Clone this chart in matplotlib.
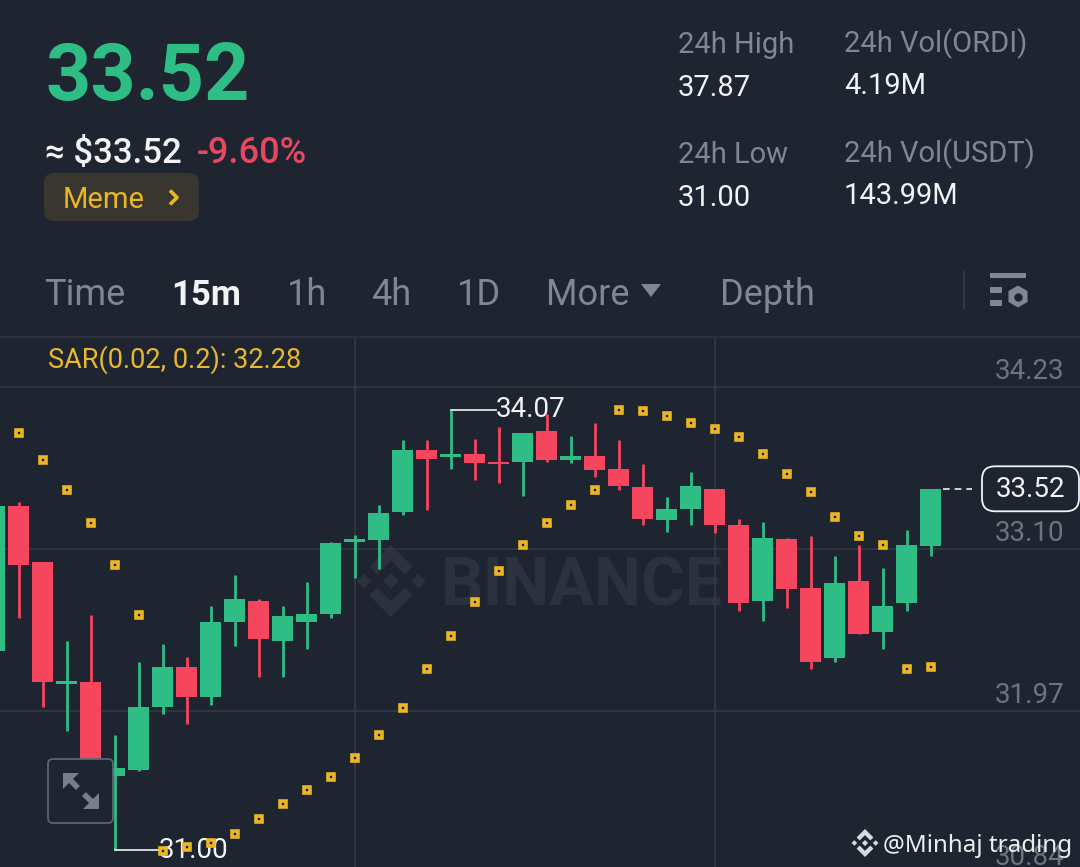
#!/usr/bin/env python3
"""ORDI/USDT 15m candlestick screen with parabolic SAR dots."""

import numpy as np
import matplotlib
matplotlib.use("Agg")
import matplotlib.pyplot as plt
from matplotlib.patches import FancyBboxPatch, Polygon

plt.rcParams['font.family'] = ['Roboto', 'DejaVu Sans']

BG = '#1e2430'
GREEN = '#2ebd85'
RED = '#f6465d'
GOLD = '#e9b824'
GREY = '#7f8794'
GRID = '#343a45'
WHITE = '#f2f3f5'

opens = [32.39, 33.40, 33.01, 32.16, 32.17, 31.52, 31.56, 32.00, 32.28, 32.07,
         32.59, 32.74, 32.46, 32.59, 32.65, 33.15, 33.16, 33.36, 33.79, 33.74,
         33.76, 33.71, 33.71, 33.92, 33.72, 33.75, 33.66, 33.53, 33.30, 33.38,
         33.52, 33.27, 32.74, 33.17, 32.83, 32.34, 32.88, 32.52, 32.72, 33.12]
closes = [33.40, 32.99, 32.17, 32.18, 31.56, 31.57, 32.00, 32.28, 32.07, 32.59,
          32.75, 32.47, 32.63, 32.65, 33.14, 33.17, 33.35, 33.79, 33.73, 33.76,
          33.70, 33.69, 33.91, 33.72, 33.75, 33.65, 33.54, 33.31, 33.38, 33.54,
          33.27, 32.72, 33.18, 32.82, 32.31, 32.86, 32.51, 32.70, 33.13, 33.52]
highs = [33.40, 33.43, 33.01, 32.46, 32.64, 31.80, 32.31, 32.44, 32.35, 32.70,
         32.92, 32.75, 32.70, 32.87, 33.15, 33.20, 33.41, 33.86, 33.86, 34.07,
         33.87, 33.95, 33.91, 34.04, 33.89, 33.98, 33.86, 33.69, 33.46, 33.64,
         33.52, 33.31, 33.29, 33.18, 33.19, 33.05, 33.13, 32.97, 33.23, 33.52]
lows = [32.39, 32.62, 32.00, 31.83, 31.56, 31.00, 31.55, 31.95, 31.88, 32.01,
        32.42, 32.21, 32.21, 32.40, 32.62, 32.90, 32.96, 33.34, 33.37, 33.66,
        33.58, 33.56, 33.47, 33.71, 33.70, 33.60, 33.51, 33.27, 33.22, 33.27,
        33.21, 32.67, 32.60, 32.69, 32.26, 32.31, 32.51, 32.40, 32.67, 33.05]
sar = [np.nan, 33.91, 33.72, 33.51, 33.28, 32.99, 32.64, 30.99, 31.02, 31.05,
       31.11, 31.22, 31.32, 31.42, 31.51, 31.64, 31.80, 31.99, 32.26, 32.49,
       32.73, 32.95, 33.13, 33.28, 33.41, 33.51, 34.07, 34.06, 34.03, 33.98,
       33.94, 33.88, 33.76, 33.62, 33.50, 33.32, 33.19, 33.13, 32.26, 32.28]

price_ticks = [34.23, 33.10, 31.97, 30.84]
time_ticks = [15, 30]
tab_labels = ['Time', '15m', '1h', '4h', '1D', 'More', 'Depth']
tab_x = [44, 171, 287, 371, 457, 546, 720]

fig = plt.figure(figsize=(10.8, 8.67), dpi=100, facecolor=BG)


def pixel_axes(z):
    a = fig.add_axes([0, 0, 1, 1], zorder=z)
    a.set_xlim(0, 1080)
    a.set_ylim(867, 0)
    a.axis('off')
    return a


def binance_logo(a, cx, cy, r, color):
    # chevrons top/bottom, three small diamonds across the middle
    chevron = np.array([[0, -1], [.6, -.4], [.38, -.18], [0, -.56], [-.38, -.18], [-.6, -.4]])
    diamond = np.array([[0, -1], [1, 0], [0, 1], [-1, 0]])
    shapes = [chevron, chevron * [1, -1], diamond * .22,
              diamond * .2 + [.76, 0], diamond * .2 + [-.76, 0]]
    for s in shapes:
        a.add_patch(Polygon(s * r + [cx, cy], closed=True, fc=color, ec='none'))


bg = pixel_axes(0)
ax = fig.add_axes([0, 0, 1, (867 - 337) / 867], zorder=1)
top = pixel_axes(2)

# watermark under the candles
binance_logo(bg, 391, 581, 36, '#2c323d')
bg.text(441, 605, 'BINANCE', color='#2c323d', fontsize=48, fontweight='bold', va='baseline')

# header
bg.text(46, 100, '33.52', color=GREEN, fontsize=57, fontweight='bold', va='baseline')
bg.text(45, 163, '≈ $33.52', color=WHITE, fontsize=25, fontweight='medium', va='baseline')
bg.text(197, 163, '-9.60%', color='#e5485f', fontsize=26, fontweight='medium', va='baseline')
bg.add_patch(FancyBboxPatch((51, 180), 141, 34, boxstyle='round,pad=7,rounding_size=10',
                            fc='#38362f', ec='none'))
bg.text(63, 208, 'Meme', color=GOLD, fontsize=21, va='baseline')
bg.plot([170, 177, 170], [190.5, 197.5, 204.5], color=GOLD, lw=2.6, solid_capstyle='butt')

stats = [(678, 53, '24h High', GREY), (678, 96, '37.87', WHITE),
         (844, 52, '24h Vol(ORDI)', GREY), (844, 94, '4.19M', WHITE),
         (678, 163, '24h Low', GREY), (678, 206, '31.00', WHITE),
         (844, 162, '24h Vol(USDT)', GREY), (844, 204, '143.99M', WHITE)]
for sx, sy, label, col in stats:
    bg.text(sx, sy, label, color=col, fontsize=21, va='baseline')

# timeframe tabs
for label, tx in zip(tab_labels, tab_x):
    on = label == '15m'
    bg.text(tx, 305, label, color=WHITE if on else GREY, fontsize=26 if not on else 25,
            fontweight='bold' if on else 'normal', va='baseline')
bg.add_patch(Polygon([[641, 284], [661, 284], [651, 297]], closed=True, fc=GREY, ec='none'))
bg.plot([964, 964], [272, 308], color='#343a45', lw=1.4)
for ix, iy, iw, ih in [(977, 273, 36, 5), (977, 287, 12, 6), (977, 300, 12, 6)]:
    bg.fill_between([ix + 13, ix + 13 + iw], iy, iy + ih, color=GREY, lw=0)
angles = np.deg2rad(np.arange(30, 390, 60))
bg.add_patch(Polygon(np.c_[1018 + 11 * np.cos(angles), 296.5 + 11 * np.sin(angles)],
                     closed=True, fc=GREY, ec='none'))
bg.plot([1018], [296.5], 'o', ms=5, color=BG)
bg.plot([0, 1080], [337, 337], color='#2b313c', lw=1.6)

# price chart, index 0 sits just left of the visible edge
x = np.arange(len(opens))
opens, closes, highs, lows = map(np.array, (opens, closes, highs, lows))
colors = [GREEN if c >= o else RED for o, c in zip(opens, closes)]

ax.set_facecolor('none')
ax.set_xticks(time_ticks, [''] * len(time_ticks))
ax.set_yticks(price_ticks, [''] * len(price_ticks))
ax.tick_params(length=0)
ax.grid(True, color=GRID, lw=1.1)
ax.set_axisbelow(True)
for s in ax.spines.values():
    s.set_visible(False)

ax.vlines(x, lows, highs, colors=colors, lw=2, zorder=2)
ax.bar(x, np.abs(closes - opens), bottom=np.minimum(opens, closes), width=0.885,
       color=colors, lw=0, zorder=2)
ax.plot(x, sar, 's', ms=4.2, mfc=BG, mec=GOLD, mew=2.6, ls='none', zorder=3)

# limits last, set_yticks would otherwise widen them to reach 30.84
ax.set_xlim(5.3 / 24, 1085.3 / 24)
ax.set_ylim(33.10 - 318 / 143.36, 33.10 + 212 / 143.36)

for tick in price_ticks:
    ax.annotate(f'{tick:.2f}', xy=(1, tick), xycoords=('axes fraction', 'data'),
                xytext=(-16, 2), textcoords='offset pixels', ha='right', va='bottom',
                color='#6d7480', fontsize=20, annotation_clip=False)

# session extremes
hi_i = int(np.argmax(highs))
lo_i = int(np.argmin(lows))
for i, val, dx in [(hi_i, highs[hi_i], 45), (lo_i, lows[lo_i], 44)]:
    ax.plot([x[i], x[i] + dx / 24], [val, val], color=WHITE, lw=1.2, zorder=2.5)
    ax.annotate(f'{val:.2f}', xy=(x[i], val), xytext=(dx, 0), textcoords='offset pixels',
                ha='left', va='center', color=WHITE, fontsize=20, zorder=2.6)

# last price tag
last = closes[-1]
last_y = 867 - ax.transData.transform((0, last))[1]
ax.plot([x[-1] + 0.5, (972 + 5.3) / 24], [last, last], color=WHITE, lw=1.2,
        dashes=(4, 3), zorder=3)
top.add_patch(FancyBboxPatch((994, last_y - 10.5), 73, 21, boxstyle='round,pad=12,rounding_size=13',
                             fc=BG, ec=WHITE, lw=1.3))
top.text(1030.5, last_y + 0.5, f'{last:.2f}', color=WHITE, fontsize=20, ha='center', va='center')

# indicator label
top.text(48, 368, 'SAR(0.02, 0.2): 32.28', color='#e8b92f', fontsize=19.5, va='baseline')

# expand button
top.add_patch(FancyBboxPatch((52, 763), 57, 56, boxstyle='round,pad=4,rounding_size=5',
                             fc=BG, ec='#5d6572', lw=1.3))
btn = '#767e8b'
top.add_patch(Polygon([[63, 773], [79, 773], [73, 779], [80, 786], [76, 790], [69, 783], [63, 789]],
                      closed=True, fc=btn, ec='none'))
top.add_patch(Polygon([[99, 809], [83, 809], [89, 803], [82, 796], [86, 792], [93, 799], [99, 793]],
                      closed=True, fc=btn, ec='none'))

# footer handle
binance_logo(top, 865, 843, 14, '#d9dade')
top.text(883, 852, '@Minhaj trading', color='#eceded', fontsize=17.4, family='Noto Sans', va='baseline')

fig.savefig('out.png', dpi=100, facecolor=BG)
